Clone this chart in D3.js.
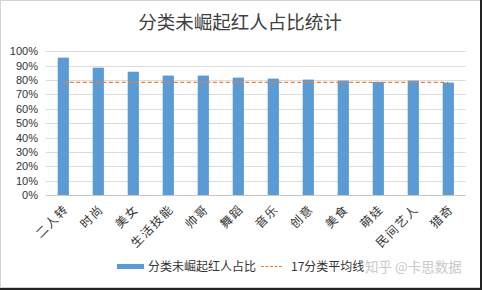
<!DOCTYPE html>
<html>
<head>
<meta charset="utf-8">
<script src="https://cdn.jsdelivr.net/npm/d3@7"></script>
<style>
  html, body { margin: 0; padding: 0; background: #fff; }
  svg { display: block; font-family: "Noto Sans CJK SC", "Microsoft YaHei", sans-serif; }
</style>
</head>
<body>
<svg id="chart" width="482" height="290"></svg>
<script>
var categories = ['二人转', '时尚', '美女', '生活技能', '帅哥', '舞蹈', '音乐', '创意', '美食', '萌娃', '民间艺人', '猎奇']
var shares = [95.6, 88.6, 85.8, 83.1, 83.1, 81.7, 81.0, 80.3, 79.6, 78.7, 79.6, 78.2]
var average = 78.4
var yTicks = [0, 10, 20, 30, 40, 50, 60, 70, 80, 90, 100]
var titleText = '分类未崛起红人占比统计'
var legendBar = '分类未崛起红人占比'
var legendLine = '17分类平均线'
var watermark = '知乎 @卡思数据'

const svg = d3.select('#chart')

// frame
svg.append('rect')
  .attr('x', 0.5).attr('y', 0.5).attr('width', 480).attr('height', 287)
  .attr('fill', '#fff').attr('stroke', '#d4d4d4')
svg.append('line').attr('x1', 481).attr('x2', 481).attr('y1', 0).attr('y2', 290)
  .attr('stroke', '#222').attr('stroke-width', 2)
svg.append('line').attr('x1', 0).attr('x2', 482).attr('y1', 289).attr('y2', 289)
  .attr('stroke', '#222').attr('stroke-width', 2)

const x = d3.scaleBand().domain(categories).range([45.8, 465.8]).paddingInner(0.68).paddingOuter(0.34)
const y = d3.scaleLinear().domain([0, 100]).range([195, 51.3])

svg.append('text')
  .attr('x', 240).attr('y', 29)
  .attr('text-anchor', 'middle')
  .attr('font-size', 18.5)
  .attr('fill', '#404040')
  .text(titleText)

// gridlines
svg.append('g')
  .selectAll('line')
  .data(yTicks)
  .enter()
  .append('line')
  .attr('x1', 45.8).attr('x2', 465.8)
  .attr('y1', (d) => Math.round(y(d)) + 0.5)
  .attr('y2', (d) => Math.round(y(d)) + 0.5)
  .attr('stroke', (d) => d === 0 ? '#c8c8c8' : '#dcdcdc')

// y axis labels
const yAxis = svg.append('g')
  .attr('transform', 'translate(38,0)')
  .call(d3.axisLeft(y).tickValues(yTicks).tickSize(0).tickPadding(0).tickFormat((d) => d + '%'))
yAxis.select('.domain').remove()
yAxis.selectAll('text')
  .attr('font-family', '"Liberation Sans", Arial, sans-serif')
  .attr('font-size', 11)
  .attr('fill', '#333')

// bars
svg.append('g')
  .selectAll('rect')
  .data(shares)
  .enter()
  .append('rect')
  .attr('x', (d, i) => x(categories[i]))
  .attr('width', x.bandwidth())
  .attr('y', (d) => y(d))
  .attr('height', (d) => y(0) - y(d))
  .attr('fill', '#5b9bd5')

// average line
const line = d3.line()
  .x((d) => x(d) + x.bandwidth() / 2)
  .y(() => y(average))
svg.append('path')
  .datum(categories)
  .attr('d', line)
  .attr('fill', 'none')
  .attr('stroke', '#ed7d31')
  .attr('stroke-width', 1.3)
  .attr('stroke-dasharray', '4,2.5')

// x labels
svg.append('g')
  .selectAll('text')
  .data(categories)
  .enter()
  .append('text')
  .attr('transform', (d) => 'translate(' + (x(d) + x.bandwidth() / 2 + 6) + ',210) rotate(-45)')
  .attr('text-anchor', 'end')
  .attr('font-size', 12)
  .attr('letter-spacing', 1.5)
  .attr('fill', '#333')
  .text((d) => d)

// legend
svg.append('rect')
  .attr('x', 117).attr('y', 264).attr('width', 27).attr('height', 5)
  .attr('fill', '#5b9bd5')
svg.append('text')
  .attr('x', 148).attr('y', 271)
  .attr('font-size', 12).attr('fill', '#333')
  .text(legendBar)
svg.append('line')
  .attr('x1', 261).attr('x2', 282).attr('y1', 266.5).attr('y2', 266.5)
  .attr('stroke', '#ed7d31').attr('stroke-width', 1.2)
  .attr('stroke-dasharray', '3,1.5')
svg.append('text')
  .attr('x', 291).attr('y', 271)
  .attr('font-size', 12).attr('fill', '#333')
  .text(legendLine)
svg.append('text')
  .attr('x', 365).attr('y', 272)
  .attr('font-size', 13.5).attr('fill', '#c8c8c8')
  .text(watermark)
</script>
</body>
</html>
